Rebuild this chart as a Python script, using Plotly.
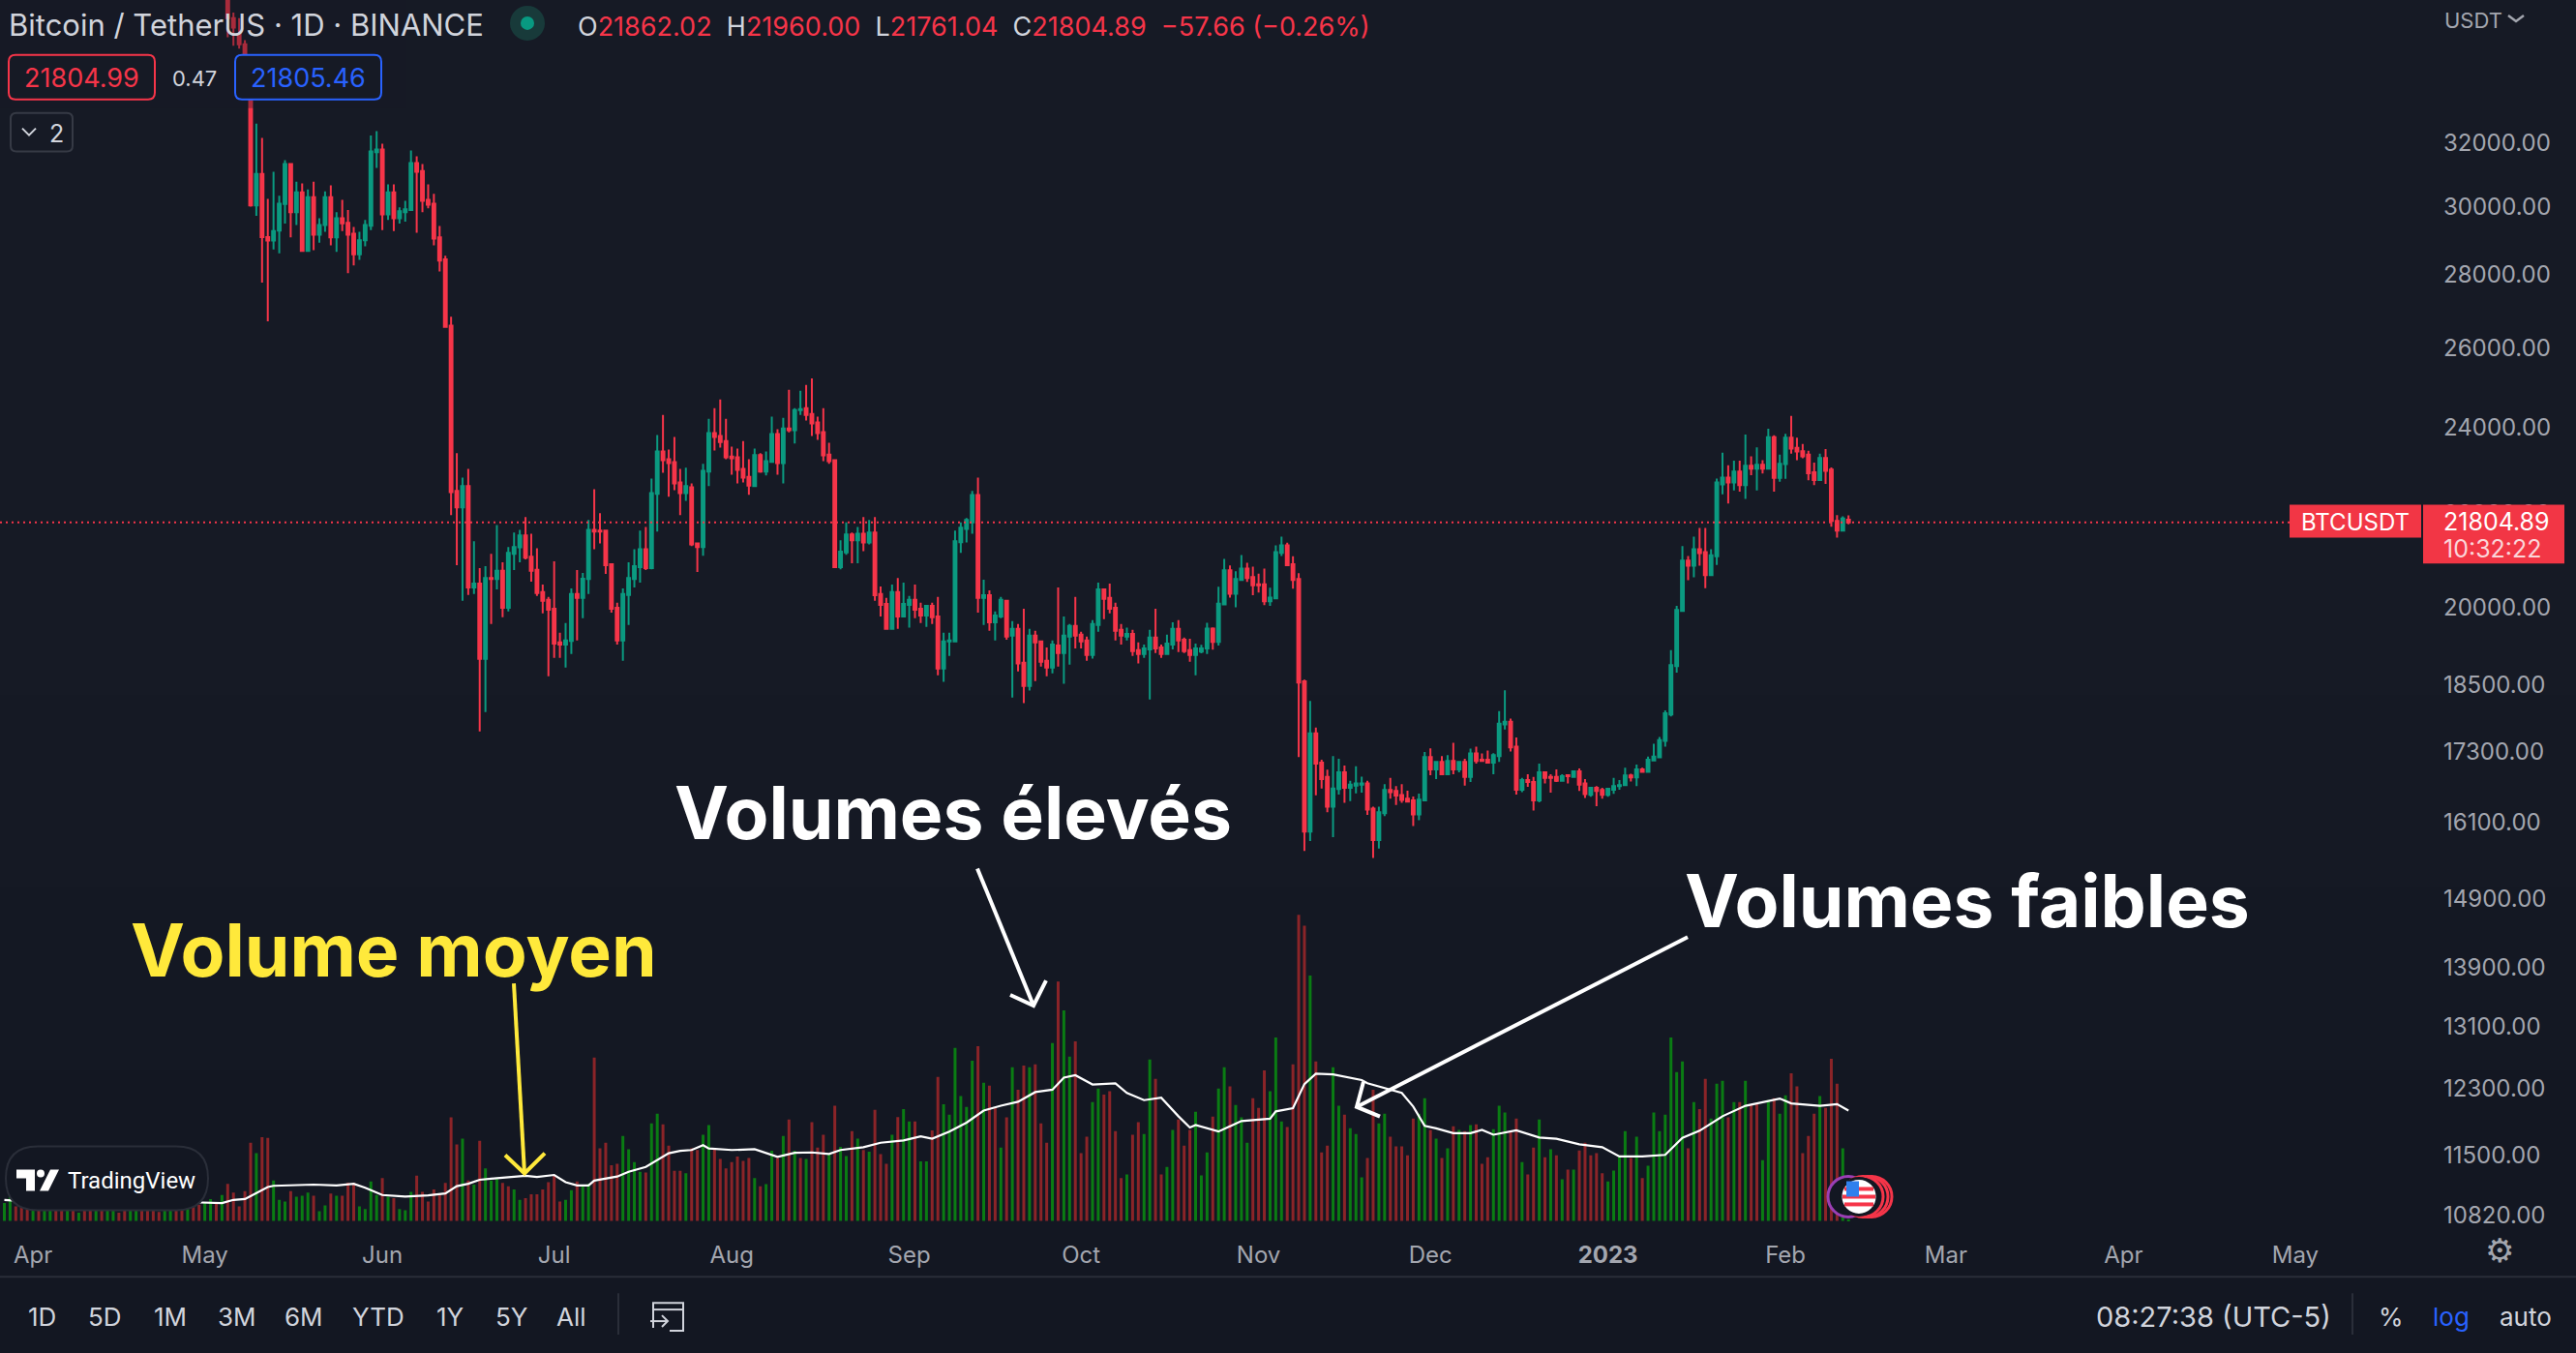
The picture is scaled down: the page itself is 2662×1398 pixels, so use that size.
import pandas as pd
import plotly.graph_objects as go

W, H = 2662, 1398
PLOT_RIGHT = 2505
PLOT_BOTTOM = 1270

# open, high, low, close per day
ohlc_may = [
    (39000, 39500, 35600, 36300), (36300, 36500, 35300, 35950), (35700, 36300, 35200, 35350),
    (35350, 35500, 33700, 34900), (34900, 35000, 30000, 30040), (30040, 32630, 29720, 31010),
    (31010, 32160, 27780, 29090), (29090, 30240, 26720, 28990), (28990, 31080, 28730, 29270),
    (29280, 30330, 28620, 30090), (30080, 31440, 29490, 31320), (31320, 31320, 29080, 29830),
    (29830, 30770, 29450, 30440), (30440, 30710, 28660, 28690), (28690, 30530, 28690, 30290),
    (30290, 30770, 28710, 29160), (29160, 29650, 28930, 29450), (29450, 30470, 29250, 30290),
    (30290, 30650, 28850, 29080), (29080, 29830, 28660, 29650), (29650, 30210, 29270, 29500),
    (29510, 29900, 28050, 29160), (29190, 29390, 28270, 28590), (28590, 29250, 28430, 29000),
    (29000, 29600, 28820, 29450), (29430, 32240, 29300, 31720), (31700, 32380, 31200, 31780),
]
ohlc_jun = [
    (31780, 31970, 29300, 29770), (29770, 30680, 29600, 30440), (30440, 30680, 29270, 29650),
    (29650, 29980, 29490, 29860), (29830, 30180, 29550, 29920), (29900, 31750, 29900, 31350),
    (31350, 31570, 29220, 31080), (31100, 31320, 29830, 30180), (30210, 30680, 29950, 30060),
    (30090, 30390, 28850, 29050), (29080, 29420, 28100, 28410), (28440, 28550, 26570, 26570),
    (26600, 26840, 21965, 22480), (22505, 23380, 20880, 22135), (22135, 22810, 20140, 22615),
    (22615, 23015, 20260, 20415), (20415, 21390, 20280, 20495), (20495, 20820, 17650, 18995),
    (18995, 20860, 18000, 20610), (20610, 21120, 19675, 20590), (20590, 21745, 20375, 20760),
    (20760, 20940, 19810, 20000), (20000, 21265, 19925, 21140), (21120, 21580, 20775, 21265),
    (21260, 21640, 20940, 21515), (21515, 21920, 21000, 21040), (21060, 21555, 20535, 20760),
    (20780, 21240, 20240, 20300), (20320, 20475, 19885, 20140), (20160, 20220, 18660, 19960),
]
ohlc_jul = [
    (19980, 20960, 19010, 19290), (19310, 19500, 19010, 19270), (19270, 19695, 18825, 19350),
    (19340, 20395, 19085, 20280), (20280, 20775, 19350, 20200), (20200, 20715, 19790, 20595),
    (20590, 21855, 20280, 21640), (21640, 22545, 21220, 21600), (21620, 22005, 21345, 21600),
    (21620, 21640, 20695, 20880), (20900, 20900, 19900, 19980), (20000, 20100, 19270, 19350),
    (19350, 20395, 18955, 20280), (20260, 20940, 19655, 20610), (20590, 21220, 20415, 20860),
    (20840, 21620, 20515, 21220), (21220, 21700, 20775, 20820), (20820, 22790, 20795, 22460),
    (22440, 23815, 21600, 23425), (23425, 24305, 22925, 23215), (23240, 23470, 22375, 23150),
    (23170, 23770, 22525, 22680), (22700, 23015, 21965, 22460), (22460, 23040, 22285, 22615),
    (22590, 22680, 21285, 21325), (21345, 21365, 20735, 21265), (21265, 23130, 21080, 22970),
    (22950, 24210, 22615, 23860), (23860, 24470, 23445, 23770), (23790, 24690, 23515, 23650),
    (23670, 24210, 23240, 23285),
]
ohlc_aug = [
    (23305, 23535, 22880, 23265), (23285, 23490, 22680, 22990), (23015, 23670, 22700, 22810),
    (22830, 23240, 22420, 22630), (22615, 23490, 22615, 23335), (23335, 23380, 22925, 22950),
    (22950, 23425, 22860, 23195), (23180, 24260, 23180, 23840), (23840, 23955, 22880, 23150),
    (23150, 24235, 22680, 23975), (23975, 24930, 23880, 23930), (23930, 24470, 23610, 24425),
    (24425, 24905, 24305, 24445), (24470, 25050, 24165, 24305), (24330, 25220, 23795, 24095),
    (24120, 24260, 23700, 23860), (23885, 24470, 23195, 23330), (23350, 23630, 23130, 23195),
    (23215, 23240, 20820, 20840), (20840, 21410, 20795, 21165), (21150, 21805, 21100, 21540),
    (21540, 21580, 20920, 21410), (21410, 21700, 20920, 21555), (21555, 21920, 21180, 21365),
    (21365, 21855, 21325, 21580), (21580, 21920, 20140, 20255), (20280, 20435, 19825, 20060),
    (20080, 20200, 19560, 19580), (19580, 20475, 19580, 20320), (20320, 20610, 19580, 19825),
    (19825, 20515, 19825, 20080),
]
ohlc_sep = [
    (20060, 20240, 19600, 20160), (20160, 20475, 19790, 19960), (19980, 20100, 19695, 19845),
    (19845, 20060, 19615, 20040), (20040, 20100, 19675, 19810), (19825, 20220, 18680, 18810),
    (18810, 19500, 18555, 19330), (19330, 19500, 19050, 19350), (19330, 21620, 19330, 21390),
    (21370, 21805, 21140, 21685), (21660, 21900, 21365, 21855), (21805, 22505, 21555, 22415),
    (22415, 22810, 19900, 20200), (20200, 20575, 19655, 20255), (20255, 20355, 19540, 19710),
    (19710, 19925, 19350, 19845), (19825, 20220, 19790, 20160), (20140, 20160, 19365, 19425),
    (19445, 19730, 18265, 19580), (19580, 19675, 18755, 18905), (18920, 19980, 18160, 18480),
    (18480, 19580, 18395, 19445), (19445, 19540, 18570, 19310), (19330, 19350, 18845, 18940),
    (18955, 19215, 18660, 18825), (18825, 19350, 18715, 19270), (19250, 20415, 18845, 19105),
    (19105, 19825, 18520, 19445), (19425, 19675, 18880, 19635), (19635, 20220, 19195, 19445),
]
ohlc_oct = [
    (19465, 19520, 19195, 19330), (19350, 19425, 18955, 19070), (19070, 19750, 19000, 19675),
    (19655, 20515, 19520, 20375), (20375, 20395, 19770, 20180), (20200, 20495, 19885, 19980),
    (20000, 20100, 19350, 19540), (19560, 19675, 19270, 19445), (19425, 19600, 19350, 19480),
    (19480, 19560, 19050, 19145), (19160, 19310, 18905, 19085), (19085, 19270, 19010, 19195),
    (19175, 19560, 18230, 19405), (19405, 19980, 19105, 19195), (19215, 19270, 19010, 19085),
    (19085, 19465, 19085, 19290), (19270, 19710, 19175, 19580), (19580, 19750, 19125, 19350),
    (19365, 19405, 19105, 19145), (19160, 19385, 18940, 19070), (19070, 19290, 18680, 19195),
    (19135, 19265, 19100, 19195), (19195, 19700, 19085, 19585), (19585, 19605, 19170, 19320),
    (19320, 20430, 19250, 20085), (20070, 21010, 20055, 20770), (20770, 20875, 20205, 20285),
    (20285, 20750, 20010, 20590), (20570, 21095, 20570, 20810), (20810, 20930, 20530, 20610),
    (20630, 20850, 20255, 20460),
]
ohlc_nov = [
    (20480, 20700, 20310, 20460), (20480, 20810, 20055, 20130), (20130, 20410, 20040, 20205),
    (20190, 21300, 20190, 21155), (21140, 21490, 21075, 21300), (21300, 21360, 20880, 20880),
    (20900, 21070, 20390, 20570), (20590, 20710, 17200, 18545), (18565, 18600, 15640, 15950),
    (15950, 18200, 15800, 17615), (17615, 17720, 16545, 17085), (17100, 17150, 16660, 16820),
    (16855, 16980, 16265, 16355), (16355, 17215, 15860, 16660), (16650, 17170, 16560, 16935),
    (16935, 17050, 16420, 16670), (16670, 16790, 16450, 16725), (16710, 17040, 16580, 16745),
    (16725, 16860, 16590, 16745), (16745, 16790, 16220, 16310), (16325, 16355, 15530, 15815),
    (15815, 16355, 15680, 16265), (16250, 16735, 16200, 16635), (16635, 16840, 16490, 16600),
    (16620, 16700, 16385, 16540), (16550, 16735, 16420, 16470), (16490, 16625, 16425, 16440),
    (16460, 16525, 16040, 16230), (16230, 16575, 16135, 16475), (16460, 17285, 16460, 17200),
]
ohlc_dec = [
    (17200, 17350, 16885, 16985), (16985, 17130, 16820, 17115), (17115, 17215, 16885, 16900),
    (16900, 17230, 16900, 17130), (17130, 17450, 16900, 16985), (16985, 17130, 16935, 17115),
    (17115, 17170, 16710, 16855), (16855, 17345, 16770, 17260), (17260, 17380, 17085, 17130),
    (17150, 17260, 17115, 17130), (17150, 17310, 17100, 17100), (17100, 17265, 16900, 17230),
    (17215, 18015, 17115, 17790), (17775, 18400, 17685, 17825), (17825, 17880, 17295, 17365),
    (17380, 17540, 16560, 16640), (16640, 16840, 16600, 16805), (16805, 16900, 16690, 16770),
    (16770, 16855, 16295, 16460), (16460, 17085, 16430, 16935), (16935, 16950, 16745, 16840),
    (16855, 16900, 16590, 16840), (16855, 16985, 16770, 16790), (16790, 16900, 16790, 16870),
    (16885, 16890, 16745, 16870), (16855, 16970, 16855, 16950), (16950, 17000, 16620, 16725),
    (16745, 16820, 16500, 16565), (16555, 16690, 16520, 16670), (16670, 16700, 16365, 16620),
    (16635, 16670, 16490, 16555),
]
ohlc_jan = [
    (16555, 16655, 16520, 16655), (16640, 16840, 16570, 16700), (16700, 16805, 16640, 16715),
    (16715, 17015, 16715, 16880), (16880, 16910, 16780, 16850), (16850, 17070, 16700, 16985),
    (16985, 17015, 16930, 16945), (16945, 17205, 16930, 17150), (17140, 17430, 17140, 17205),
    (17195, 17550, 17195, 17495), (17480, 18030, 17380, 17975), (17955, 19160, 17920, 18875),
    (18855, 20040, 18730, 19955), (19935, 21285, 19915, 20975), (20975, 21075, 20565, 20870),
    (20870, 21490, 20625, 21220), (21220, 21680, 20870, 21135), (21155, 21680, 20400, 20670),
    (20670, 21220, 20670, 21090), (21070, 22790, 20885, 22700), (22655, 23395, 22430, 22810),
    (22810, 23100, 22225, 22700), (22700, 23205, 22520, 22950), (22950, 23205, 22490, 22640),
    (22640, 23830, 22325, 23085), (23085, 23310, 22870, 23020), (23020, 23520, 22520, 23110),
    (23110, 23220, 22905, 23020), (23020, 23970, 23000, 23765), (23765, 23810, 22490, 22805),
    (22805, 23350, 22715, 23135),
]
ohlc_feb = [
    (23125, 23845, 22785, 23750), (23750, 24280, 23370, 23490), (23510, 23750, 23220, 23420),
    (23430, 23600, 23265, 23310), (23350, 23440, 22750, 22910), (22935, 23160, 22640, 22755),
    (22755, 23370, 22755, 23270), (23270, 23480, 22670, 22970), (22995, 23045, 21705, 21835),
    (21835, 21965, 21470, 21620), (21620, 21935, 21620, 21890), (21862.02, 21960.00, 21761.04, 21804.89),
]

# daily volume (thousand BTC), from 2022-03-27
volumes = [
    44, 62, 36, 45, 50, 40, 55, 42, 48, 38,
    52, 44, 40, 20, 42, 38, 46, 50, 36, 44,
    20, 40, 48, 38, 44, 42, 50, 22, 40, 46,
    44, 50, 32, 44, 40, 44, 54, 44, 64, 92,
    70, 36, 74, 194, 168, 208, 206, 100, 52, 48,
    74, 60, 62, 70, 62, 24, 38, 68, 62, 62,
    95, 95, 36, 29, 98, 64, 106, 60, 56, 29,
    26, 72, 112, 72, 48, 78, 64, 94, 257, 190,
    204, 100, 90, 199, 130, 100, 104, 94, 86, 78,
    52, 56, 66, 66, 78, 96, 112, 48, 52, 76,
    98, 86, 92, 406, 180, 194, 138, 142, 211, 178,
    146, 122, 120, 242, 266, 240, 187, 124, 124, 118,
    180, 176, 214, 238, 180, 154, 130, 146, 160, 149,
    156, 106, 86, 91, 174, 156, 211, 252, 174, 156,
    154, 245, 182, 214, 166, 286, 184, 161, 223, 204,
    176, 172,
    276, 166, 142, 214, 258, 278, 247, 247, 148, 148,
    225, 358, 290, 264, 430, 310, 283, 398, 434, 343,
    336, 281, 182, 257, 382, 326, 386, 382, 389, 242,
    194, 442, 595, 523, 408, 446, 168, 209, 295, 329,
    314, 322, 223, 106, 115, 214, 245, 216, 401, 353,
    115, 134, 226, 252, 187, 226, 271, 113, 170, 259,
    329, 382, 334, 288, 257, 194, 305, 281, 374, 322,
    456, 247, 233, 389, 761, 734, 610, 396, 170, 187,
    382, 286, 264, 230, 216, 108, 156, 326, 242, 266,
    209, 185, 185, 163, 254, 266, 305, 226, 204, 156,
    180, 235, 226, 223, 238, 240, 142, 158, 228, 286,
    269, 221, 254, 146, 115, 182, 252, 158, 178, 163,
    103, 127, 127, 175, 194, 163, 168, 118, 98, 125,
    163, 223, 156, 209, 106, 137, 269, 223, 264, 456,
    370, 396, 180, 295, 278, 353, 254, 341, 348, 257,
    295, 295, 348, 288, 293, 151, 300, 305, 266, 312,
    367, 334, 168, 211, 266, 310, 281, 403, 341, 180,
    4,
]
volume_sides = "".join([
    "ggrrrgrggr", "rgrgrrgrgg", "rrggrrrrgg", "rrgrrggrgr",
    "rrrrgrrggg", "rgggrggrgr", "rrggggrgrg", "ggrrrrrrrr",
    "grgrgggrrg", "grrrrrrrgg", "rggrrrrrgg", "ggrggrrrrg",
    "rrggrrrrrr", "rgrggrgrgr", "grrrgrggrg", "rg",
    "rrrgrggrgg", "rrggggggrg", "rrgrgrrgrr", "rgrggrrrgg",
    "rrrrgrrggr", "rggrrrgggr", "ggrgggrrrg", "ggrrrrgrrr",
    "ggrgggrrgg", "rrrrrggrgr", "grgrgrrrgg", "grrgrrgrgr",
    "grgrrrrrgg", "ggrgrggggg", "ggrgrrgggr", "grgrrggrgg",
    "rrrrrgrrrg", "g",
])

ma_bars = [
    0, 2, 16, 33, 38, 40, 42, 44, 46, 47, 51, 54, 58, 61, 63, 66, 70, 74, 77, 79,
    81, 83, 86, 91, 93, 96, 98, 100, 102, 103, 107, 109, 112, 114, 116, 118, 120,
    122, 123, 127, 131, 135, 138, 141, 144, 146, 150, 153, 157, 160, 162, 165, 168,
    171, 174, 177, 180, 183, 185, 187, 190, 194, 196, 199, 202, 205, 207, 208, 212,
    216, 221, 222, 225, 227, 229, 232, 237, 238, 244, 246, 248, 250, 253, 256, 258,
    260, 264, 268, 271, 275, 279, 282, 286, 290, 293, 296, 300, 304, 310, 312, 317,
    320, 322,
]
ma_values = [
    52, 50, 45, 46, 44, 52, 54, 68, 84, 87, 88, 90, 88, 92, 82, 64, 60, 63, 68, 86,
    92, 102, 106, 112, 109, 114, 96, 88, 88, 100, 110, 122, 134, 152, 168, 174, 176,
    188, 180, 176, 178, 159, 169, 170, 166, 176, 183, 194, 200, 210, 204, 222, 244,
    274, 286, 296, 320, 326, 356, 362, 339, 342, 318, 300, 306, 260, 232, 238, 222,
    248, 254, 272, 280, 340, 366, 364, 350, 342, 318, 284, 236, 230, 218, 218, 226,
    214, 225, 207, 204, 190, 183, 160, 160, 164, 206, 224, 260, 286, 304, 292, 286,
    290, 274,
]

y_tick_values = [32000, 30000, 28000, 26000, 24000, 22000, 20000, 18500, 17300, 16100, 14900, 13900, 13100, 12300, 11500, 10820]
x_tick_dates = ["2022-04-01", "2022-05-01", "2022-06-01", "2022-07-01", "2022-08-01", "2022-09-01", "2022-10-01",
                "2022-11-01", "2022-12-01", "2023-01-01", "2023-02-01", "2023-03-01", "2023-04-01", "2023-05-01"]
x_tick_labels = ["Apr", "May", "Jun", "Jul", "Aug", "Sep", "Oct", "Nov", "Dec", "<b>2023</b>", "Feb", "Mar", "Apr", "May"]
range_buttons = [("1D", 43), ("5D", 108), ("1M", 176), ("3M", 245), ("6M", 314), ("YTD", 391), ("1Y", 465), ("5Y", 528), ("All", 590)]

LAST_PRICE = 21804.89
UP = "#0b9a80"
DOWN = "#f63549"
VOL_UP = "#0a7c13"
VOL_DOWN = "#8b2428"
TEXT = "#a3a6af"
LIGHT = "#d1d4dc"
BG = "#161a25"
FONT = "Inter"

ohlc = (ohlc_may + ohlc_jun + ohlc_jul + ohlc_aug + ohlc_sep + ohlc_oct + ohlc_nov
        + ohlc_dec + ohlc_jan + ohlc_feb)
opens, highs, lows, closes = zip(*ohlc)
candle_dates = pd.date_range("2022-05-05", periods=len(ohlc))
volume_dates = pd.date_range("2022-03-27", periods=len(volumes))
ma_dates = [volume_dates[b] for b in ma_bars]
assert len(volumes) == len(volume_sides) == 323 and len(ma_bars) == len(ma_values)


def px(x):
    return x / W


def py(y):
    return 1 - y / H


def rect_shape(x0, y0, x1, y1, fill, line=None, lw=0, layer="above"):
    return dict(type="rect", xref="paper", yref="paper", x0=px(x0), x1=px(x1), y0=py(y0), y1=py(y1),
                fillcolor=fill, line=dict(color=line, width=lw), layer=layer)


def round_box(x0, y0, x1, y1, r, fill, line, lw=2):
    X0, X1, Y0, Y1 = px(x0), px(x1), py(y0), py(y1)
    rx, ry = r / W, r / H
    path = (f"M{X0 + rx},{Y0} L{X1 - rx},{Y0} Q{X1},{Y0} {X1},{Y0 - ry} L{X1},{Y1 + ry} Q{X1},{Y1} {X1 - rx},{Y1} "
            f"L{X0 + rx},{Y1} Q{X0},{Y1} {X0},{Y1 + ry} L{X0},{Y0 - ry} Q{X0},{Y0} {X0 + rx},{Y0} Z")
    return dict(type="path", xref="paper", yref="paper", path=path, fillcolor=fill,
                line=dict(color=line, width=lw), layer="above")


def poly(points, color, lw=4, fill=None, close=False):
    path = "M" + " L".join(f"{px(x)},{py(y)}" for x, y in points) + (" Z" if close else "")
    return dict(type="path", xref="paper", yref="paper", path=path, fillcolor=fill,
                line=dict(color=color, width=lw), layer="above")


def circle(cx, cy, r, fill, line=None, lw=0):
    return dict(type="circle", xref="paper", yref="paper", x0=px(cx - r), x1=px(cx + r), y0=py(cy + r), y1=py(cy - r),
                fillcolor=fill, line=dict(color=line, width=lw), layer="above")


def label(text, x, y, size, color=TEXT, anchor="left", family=FONT):
    # text box sits a little high against the glyphs, hence the +2
    return dict(text=text, x=px(x), y=py(y + 2), xref="paper", yref="paper", showarrow=False, xanchor=anchor,
                yanchor="middle", font=dict(family=family, size=size, color=color), borderpad=0)


fig = go.Figure()
fig.add_trace(go.Bar(x=volume_dates, y=volumes, width=3 / 5.918 * 86400000,
                     marker=dict(color=[VOL_UP if s == "g" else VOL_DOWN for s in volume_sides], line_width=0),
                     yaxis="y2", showlegend=False))
fig.add_trace(go.Scatter(x=ma_dates, y=ma_values, mode="lines", line=dict(color="#ffffff", width=2.2),
                         yaxis="y2", showlegend=False))
fig.add_trace(go.Candlestick(x=candle_dates, open=opens, high=highs, low=lows, close=closes,
                             increasing=dict(line=dict(color=UP, width=2), fillcolor=UP),
                             decreasing=dict(line=dict(color=DOWN, width=2), fillcolor=DOWN),
                             showlegend=False))

shapes = [
    # background gets slightly darker to the bottom
    rect_shape(0, 0, W, 720, "#161a25", layer="below"),
    rect_shape(0, 720, W, 920, "#151924", layer="below"),
    rect_shape(0, 920, W, 1110, "#141823", layer="below"),
    rect_shape(0, 1110, W, H, "#131722", layer="below"),
    # last price line
    dict(type="line", xref="paper", yref="y", x0=0, x1=px(2366), y0=LAST_PRICE, y1=LAST_PRICE,
         line=dict(color=DOWN, width=2, dash="2px,4px"), layer="above"),
    rect_shape(0, 0, 420, 112, "rgba(22,26,37,0.35)"),
    # legend boxes
    round_box(9, 57, 160, 103, 7, BG, DOWN),
    round_box(243, 57, 394, 103, 7, BG, "#2962ff"),
    round_box(11, 117, 75, 157, 6, BG, "#363a45"),
    poly([(23, 133), (30, 140), (37, 133)], LIGHT, 2),
    circle(545, 24, 18, "#183a3a"),
    circle(545, 24, 7, "#089981"),
    poly([(2592, 16), (2600, 22), (2608, 16)], TEXT, 2.5),
    # right side tags
    rect_shape(2366, 523, 2502, 557, "#f23645"),
    rect_shape(2504, 523, 2650, 584, "#f23645"),
    # drawn arrows
    poly([(1010, 900), (1068, 1042)], "#ffffff", 4),
    poly([(1044, 1031), (1068, 1042), (1081, 1016)], "#ffffff", 4),
    poly([(1744, 971), (1402, 1147)], "#ffffff", 4),
    poly([(1409, 1121), (1402, 1147), (1426, 1157)], "#ffffff", 4),
    poly([(531, 1019), (542, 1216)], "#ffe93b", 4),
    poly([(522, 1197), (542, 1216), (563, 1195)], "#ffe93b", 4),
    # TradingView badge
    round_box(6, 1188, 215, 1254, 33, "#131722", "#2a2e39", 2),
    poly([(17, 1212), (36, 1212), (36, 1234), (27, 1234), (27, 1221), (17, 1221)], "#ffffff", 0, "#ffffff", True),
    circle(42, 1216, 4, "#ffffff"),
    poly([(52, 1212), (61, 1212), (50, 1234), (41, 1234)], "#ffffff", 0, "#ffffff", True),
    # news coin
    circle(1910, 1240, 21, "#131722", "#9b3fb5", 3),
    circle(1934, 1240, 21, "#131722", DOWN, 3),
    circle(1930, 1240, 21, "#131722", DOWN, 3),
    circle(1925, 1240, 21, "#131722", DOWN, 3),
    circle(1921, 1240, 19, "#ffffff", "#131722", 3),
    rect_shape(1906, 1230, 1936, 1234, DOWN),
    rect_shape(1904, 1238, 1938, 1242, DOWN),
    rect_shape(1906, 1246, 1936, 1250, DOWN),
    rect_shape(1908, 1224, 1921, 1240, "#2f80ed"),
    # bottom bar
    dict(type="line", xref="paper", yref="paper", x0=0, x1=1, y0=py(1323), y1=py(1323),
         line=dict(color="#2a2e39", width=2), layer="above"),
    dict(type="line", xref="paper", yref="paper", x0=px(639), x1=px(639), y0=py(1340), y1=py(1383),
         line=dict(color="#2a2e39", width=2), layer="above"),
    dict(type="line", xref="paper", yref="paper", x0=px(2431), x1=px(2431), y0=py(1340), y1=py(1383),
         line=dict(color="#2a2e39", width=2), layer="above"),
    poly([(675, 1376), (675, 1350), (706, 1350), (706, 1379), (692, 1379)], LIGHT, 2),
    poly([(675, 1357), (706, 1357)], LIGHT, 2),
    poly([(672, 1369), (690, 1369)], LIGHT, 2),
    poly([(684, 1363), (690, 1369), (684, 1375)], LIGHT, 2),
]

annotations = [
    label("Bitcoin / TetherUS · 1D · BINANCE", 8, 24, 31, LIGHT),
    label(f'<span style="color:{LIGHT}">O</span>21862.02  <span style="color:{LIGHT}">H</span>21960.00  '
          f'<span style="color:{LIGHT}">L</span>21761.04  <span style="color:{LIGHT}">C</span>21804.89  −57.66 (−0.26%)'.replace("  ", "\u00a0\u00a0"),
          596, 26, 27, DOWN),
    label("21804.99", 84, 79, 27, DOWN, "center"),
    label("0.47", 201, 79, 22, LIGHT, "center"),
    label("21805.46", 318, 79, 27, "#2962ff", "center"),
    label("2", 58, 136, 25, LIGHT, "center"),
    label("USDT", 2525, 19, 22, TEXT),
    label("BTCUSDT", 2434, 539, 24, "#ffffff", "center"),
    label("21804.89", 2524, 539, 25, "#ffffff"),
    label("10:32:22", 2524, 567, 25, "#fbd5d9"),
    label("TradingView", 136, 1222, 24, "#ffffff", "center", "Roboto"),
    label("<b>Volumes élevés</b>", 985, 840, 75, "#ffffff", "center"),
    label("<b>Volumes faibles</b>", 2033, 931, 75, "#ffffff", "center"),
    label("<b>Volume moyen</b>", 407, 982, 75, "#ffe93b", "center"),
    label("⚙", 2583, 1294, 34, TEXT, "center", "DejaVu Sans"),
    label("08:27:38 (UTC-5)", 2287, 1362, 29, LIGHT, "center"),
    label("%", 2471, 1362, 26, LIGHT, "center"),
    label("log", 2533, 1362, 26, "#2962ff", "center"),
    label("auto", 2610, 1362, 26, LIGHT, "center"),
] + [label(name, x, 1362, 26, LIGHT, "center") for name, x in range_buttons]

fig.update_layout(
    width=W,
    height=H,
    margin=dict(l=0, r=0, t=0, b=0),
    paper_bgcolor="#131722",
    plot_bgcolor="rgba(0,0,0,0)",
    font=dict(family=FONT, color=TEXT),
    hovermode=False,
    boxgap=0.3,
    shapes=shapes,
    annotations=annotations,
    xaxis=dict(
        domain=[0, PLOT_RIGHT / W], type="date", range=["2022-03-26 05:46", "2023-05-23 12:00"],
        rangeslider=dict(visible=False), showgrid=False, zeroline=False, showline=False,
        tickmode="array", tickvals=x_tick_dates, ticktext=x_tick_labels, ticks="",
        tickfont=dict(family=FONT, size=24, color=TEXT), ticklabelstandoff=14,
    ),
    yaxis=dict(
        domain=[1 - PLOT_BOTTOM / H, 1], type="log", range=[4.02978, 4.56785], side="right",
        showgrid=False, zeroline=False, showline=False, ticks="",
        tickmode="array", tickvals=y_tick_values, ticktext=[f"{v:.2f}" for v in y_tick_values],
        tickfont=dict(family=FONT, size=24, color=TEXT), ticklabelstandoff=19,
    ),
    yaxis2=dict(
        domain=[1 - PLOT_BOTTOM / H, 1], overlaying="y", range=[-12, 3036], visible=False,
    ),
)

fig.write_html("out.html", config=dict(displayModeBar=False),
               post_script="document.body.style.margin='0';document.body.style.overflow='hidden';")
